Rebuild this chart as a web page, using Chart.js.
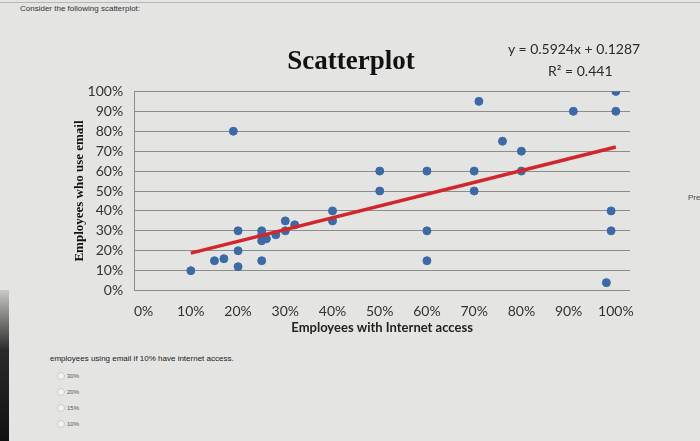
<!DOCTYPE html>
<html lang="en">
<head>
    <meta charset="UTF-8">
    <title>Scatterplot</title>
    <script src="https://cdn.jsdelivr.net/npm/chart.js"></script>
    <style>
        body { margin: 0; width: 700px; height: 441px; overflow: hidden; background: #e4e4e2; font-family: 'Liberation Sans', sans-serif; position: relative; }
        .topline { position: absolute; left: 0; top: 2px; width: 700px; height: 1px; background: #b8b8b6; }
        .prompt { position: absolute; left: 20px; top: 4px; font-size: 8px; color: #333; }
        .chart-box { position: absolute; left: 0; top: 0; width: 700px; height: 345px; }
        .eq { position: absolute; font-family: Lato, sans-serif; font-size: 14px; color: #2b2b2b; white-space: nowrap; }
        .question { position: absolute; left: 50px; top: 354px; font-size: 8px; color: #222; }
        .opt { position: absolute; left: 57px; font-size: 6px; color: #555; }
        .opt span { display: inline-block; width: 6px; height: 6px; border: 1px solid #c8c8c8; border-radius: 50%; vertical-align: middle; margin-right: 2px; background: #f2f2f0; }
        .pre { position: absolute; left: 688px; top: 193px; font-size: 8px; color: #444; }
        .edge { position: absolute; left: 0; top: 290px; width: 9px; height: 151px; background: linear-gradient(#c8c8c6, #2a2a2a 40%, #111); }
    </style>
</head>
<body>
    <div class="topline"></div>
    <div class="prompt">Consider the following scatterplot:</div>
    <div class="chart-box"><canvas id="scatterChart"></canvas></div>
    <div class="eq" style="left:508px; top:40px;">y = 0.5924x + 0.1287</div>
    <div class="eq" style="left:548px; top:62px;">R² = 0.441</div>
    <div class="question">employees using email if 10% have internet access.</div>
    <div class="opt" style="top:372px;"><span></span>30%</div>
    <div class="opt" style="top:388px;"><span></span>20%</div>
    <div class="opt" style="top:404px;"><span></span>15%</div>
    <div class="opt" style="top:420px;"><span></span>10%</div>
    <div class="pre">Pre</div>
    <div class="edge"></div>

    <script>
        // share of employees with internet access (x) vs. using email (y)
        const internetAccess = [0.10, 0.15, 0.17, 0.19, 0.20, 0.20, 0.20, 0.25, 0.25, 0.25, 0.26, 0.25, 0.28, 0.30, 0.30, 0.32,
                                0.40, 0.40, 0.50, 0.50, 0.60, 0.60, 0.60, 0.70, 0.70, 0.71, 0.76, 0.80, 0.80, 0.91, 1.00, 1.00, 0.99, 0.99, 0.98];
        const emailUse =       [0.10, 0.15, 0.16, 0.80, 0.30, 0.20, 0.12, 0.30, 0.25, 0.15, 0.26, 0.28, 0.28, 0.35, 0.30, 0.33,
                                0.40, 0.35, 0.60, 0.50, 0.60, 0.30, 0.15, 0.60, 0.50, 0.95, 0.75, 0.70, 0.60, 0.90, 1.00, 0.90, 0.40, 0.30, 0.04];
        // linear trendline end points
        const trendX = [0.10, 1.00];
        const trendY = [0.188, 0.721];
        const tickValues = [0, 0.1, 0.2, 0.3, 0.4, 0.5, 0.6, 0.7, 0.8, 0.9, 1.0];

        const points = internetAccess.map((x, i) => ({ x: x, y: emailUse[i] }));
        const trend = trendX.map((x, i) => ({ x: x, y: trendY[i] }));
        const pct = v => Math.round(v * 100) + '%';

        new Chart(document.getElementById('scatterChart'), {
            type: 'scatter',
            data: {
                datasets: [
                    {
                        label: 'Employees',
                        data: points,
                        backgroundColor: '#3b6aa6',
                        borderColor: '#3b6aa6',
                        borderWidth: 1,
                        pointRadius: 4,
                        order: 2
                    },
                    {
                        label: 'Linear trend',
                        type: 'line',
                        data: trend,
                        borderColor: '#d4262a',
                        borderWidth: 3.5,
                        pointRadius: 0,
                        fill: false,
                        order: 1
                    }
                ]
            },
            options: {
                responsive: true,
                maintainAspectRatio: false,
                animation: false,
                layout: { padding: { top: 46, left: 72, right: 70, bottom: 8 } },
                plugins: {
                    legend: { display: false },
                    tooltip: { enabled: false },
                    title: {
                        display: true,
                        text: 'Scatterplot',
                        color: '#111',
                        font: { family: 'Liberation Serif', size: 27, weight: 'bold' },
                        padding: { top: 0, bottom: 13 }
                    }
                },
                scales: {
                    x: {
                        type: 'linear',
                        min: -0.02,
                        max: 1.03,
                        afterBuildTicks: s => { s.ticks = tickValues.map(v => ({ value: v })); },
                        grid: { display: false, drawTicks: false },
                        border: { display: false },
                        ticks: { callback: pct, color: '#333', padding: 12, maxRotation: 0, autoSkip: false, font: { family: 'Lato', size: 14 } },
                        title: {
                            display: true,
                            text: 'Employees with Internet access',
                            color: '#222',
                            font: { family: 'Lato', size: 13, weight: 'bold' },
                            padding: { top: -11, bottom: 1 }
                        }
                    },
                    y: {
                        type: 'linear',
                        min: 0,
                        max: 1,
                        afterBuildTicks: s => { s.ticks = tickValues.map(v => ({ value: v })); },
                        grid: { color: '#8c8c8a', lineWidth: 1, drawTicks: false },
                        border: { display: true, color: '#8c8c8a' },
                        ticks: { callback: pct, color: '#333', padding: 11, autoSkip: false, font: { family: 'Lato', size: 14 } },
                        title: {
                            display: true,
                            text: 'Employees who use email',
                            color: '#111',
                            font: { family: 'Liberation Serif', size: 13, weight: 'bold' },
                            padding: { top: 0, bottom: -11 }
                        }
                    }
                }
            }
        });
    </script>
</body>
</html>
